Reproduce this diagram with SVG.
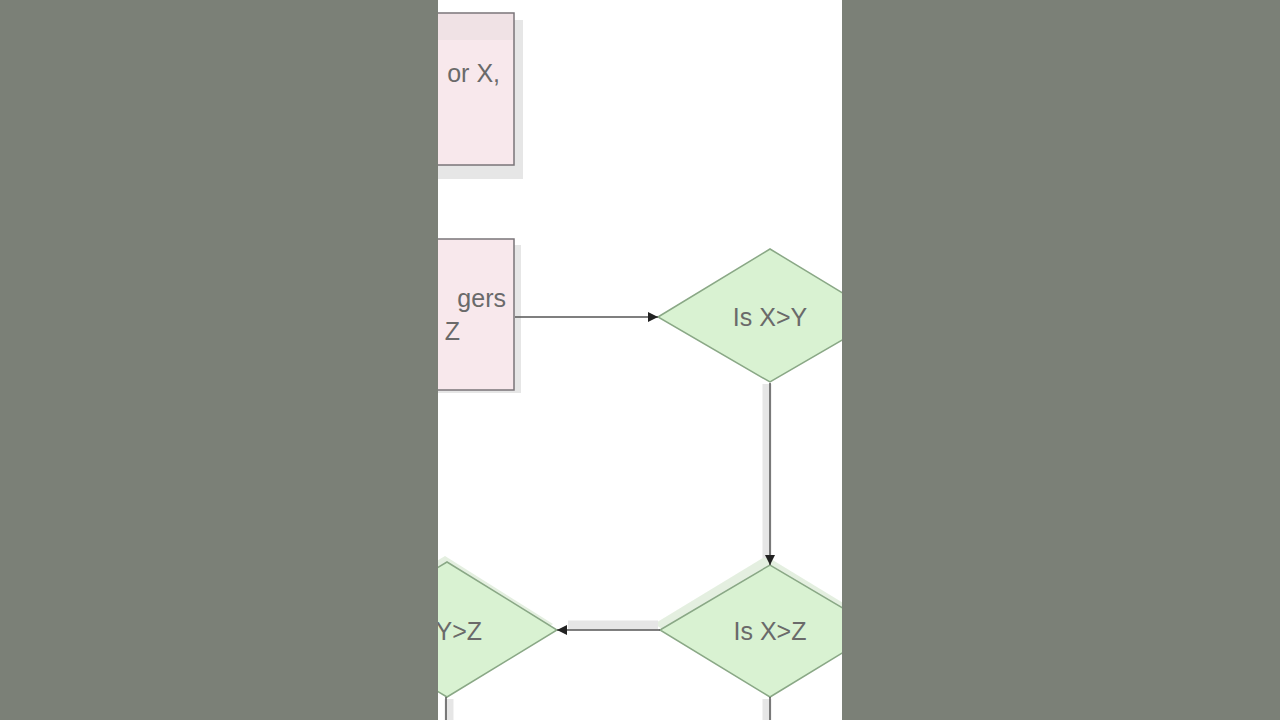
<svg xmlns="http://www.w3.org/2000/svg" width="1280" height="720" viewBox="0 0 1280 720">
<defs>
<style>
.box{fill:#f8e8ec;stroke:#7a7478;stroke-width:1.5}
.shadow{fill:#e6e6e6}
.dia{fill:#d9f2d2;stroke:#8aa886;stroke-width:1.5}
.dshadow{fill:#d2e4cc}
.lbl{font-family:"Liberation Sans",Arial,sans-serif;font-size:25px;fill:#6a6a6a}
.conn{stroke:#555;stroke-width:1.5;fill:none}
.connb{stroke:#e6e6e6;stroke-width:9;fill:none}
</style>
<clipPath id="panel"><rect x="438" y="0" width="404" height="720"/></clipPath>
<marker id="arr" viewBox="0 0 10 10" refX="10" refY="5" markerWidth="10" markerHeight="10" markerUnits="userSpaceOnUse" orient="auto">
<path d="M0,0 L10,5 L0,10 z" fill="#222"/>
</marker>
</defs>
<rect x="0" y="0" width="1280" height="720" fill="#7b8077"/>
<rect x="438" y="0" width="404" height="720" fill="#ffffff"/>
<g clip-path="url(#panel)">
<g id="box1">
<rect class="shadow" x="400" y="20" width="123" height="159"/>
<rect class="box" x="390" y="13" width="124" height="152"/>
<rect x="391" y="14" width="122" height="26" fill="#f0e2e5"/>
<text class="lbl" x="500" y="82" text-anchor="end">or X,</text>
</g>
<g id="box2">
<rect class="shadow" x="400" y="245" width="121" height="148"/>
<rect class="box" x="390" y="239" width="124" height="151"/>
<text class="lbl" x="506" y="307" text-anchor="end">gers</text>
<text class="lbl" x="460" y="340" text-anchor="end">Z</text>
</g>
<g id="decision1">
<path class="dia" d="M658,317 L770,249 L882,317 L770,382 Z"/>
<text class="lbl" x="770" y="326" text-anchor="middle">Is X&gt;Y</text>
</g>
<g id="decision2">
<path class="dshadow" d="M654,624 L766,556 L878,624 L766,690 Z" opacity="0.6"/>
<path class="dia" d="M660,630 L770,565 L880,630 L770,697 Z"/>
<text class="lbl" x="770" y="640" text-anchor="middle">Is X&gt;Z</text>
</g>
<g id="decision3">
<path class="dshadow" d="M335,624 L445,556 L553,624 L445,690 Z" opacity="0.6"/>
<path class="dia" d="M335,630 L447,562 L557,630 L447,697 Z"/>
<text class="lbl" x="482" y="640" text-anchor="end">Y&gt;Z</text>
</g>
<g id="connectors">
<line class="conn" x1="515" y1="317" x2="658" y2="317" marker-end="url(#arr)"/>
<line class="connb" x1="767" y1="384" x2="767" y2="558"/>
<line class="conn" x1="770" y1="383" x2="770" y2="565" marker-end="url(#arr)"/>
<line class="connb" x1="568" y1="625" x2="658" y2="625"/>
<line class="conn" x1="660" y1="630" x2="557" y2="630" marker-end="url(#arr)"/>
<line class="connb" x1="767" y1="699" x2="767" y2="720"/>
<line class="conn" x1="770" y1="697" x2="770" y2="720"/>
<line class="connb" x1="449" y1="699" x2="449" y2="720"/>
<line class="conn" x1="446" y1="697" x2="446" y2="720"/>
</g>
</g>
</svg>
